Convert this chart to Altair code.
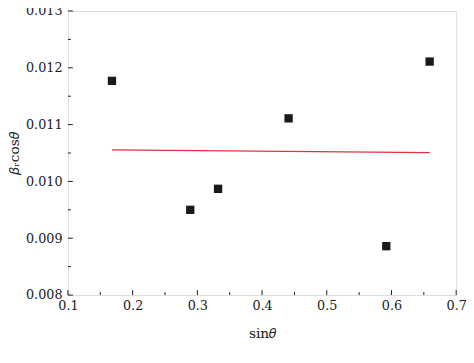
import altair as alt
import pandas as pd

# data
sin_theta = [0.168, 0.289, 0.332, 0.441, 0.592, 0.659]
beta_cos = [0.01177, 0.00950, 0.00987, 0.01111, 0.00886, 0.01211]
fit_x = [0.168, 0.659]
fit_y = [0.010557, 0.010508]
x_major = [0.1, 0.2, 0.3, 0.4, 0.5, 0.6, 0.7]
x_minor = [0.15, 0.25, 0.35, 0.45, 0.55, 0.65]
y_major = [0.008, 0.009, 0.010, 0.011, 0.012, 0.013]
y_minor = [0.0085, 0.0095, 0.0105, 0.0115, 0.0125]

W, H = 395, 289
FONT = "DejaVu Serif"

xs = alt.Scale(domain=[0.1, 0.7], nice=False, zero=False)
ys = alt.Scale(domain=[0.008, 0.013], nice=False, zero=False)

xaxis = alt.Axis(values=x_major, format=".1f", ticks=False, domain=False, grid=False,
                 labelFont=FONT, labelFontSize=13, labelColor="#1a1a1a", labelPadding=5,
                 title="sin𝜃", titleFont=FONT, titleFontSize=14, titleFontWeight="normal",
                 titleColor="#1a1a1a", titlePadding=14, labelFlush=False)
yaxis = alt.Axis(values=y_major, format=".3f", ticks=False, domain=False, grid=False,
                 labelFont=FONT, labelFontSize=13, labelColor="#1a1a1a", labelPadding=6,
                 title="𝛽ᵣcos𝜃", titleFont=FONT, titleFontSize=14, titleFontWeight="normal",
                 titleColor="#1a1a1a", titlePadding=4, labelFlush=False)

pts = pd.DataFrame({"x": sin_theta, "y": beta_cos})
fit = pd.DataFrame({"x": fit_x, "y": fit_y})

points = alt.Chart(pts).mark_square(size=72, color="#1a1a1a", opacity=1).encode(
    x=alt.X("x:Q", scale=xs, axis=xaxis),
    y=alt.Y("y:Q", scale=ys, axis=yaxis),
)
line = alt.Chart(fit).mark_line(color="#e0323c", strokeWidth=1.3).encode(
    x=alt.X("x:Q", scale=xs, axis=xaxis),
    y=alt.Y("y:Q", scale=ys, axis=yaxis),
)

def xticks(vals, length):
    return alt.Chart(pd.DataFrame({"x": vals})).mark_rule(color="#1a1a1a", strokeWidth=1).encode(
        x=alt.X("x:Q", scale=xs, axis=xaxis),
        y=alt.value(H), y2=alt.value(H - length))

def yticks(vals, length):
    return alt.Chart(pd.DataFrame({"y": vals})).mark_rule(color="#1a1a1a", strokeWidth=1).encode(
        y=alt.Y("y:Q", scale=ys, axis=yaxis),
        x=alt.value(0), x2=alt.value(length))

chart = alt.layer(
    xticks(x_major, 5), xticks(x_minor, 3), yticks(y_major, 5), yticks(y_minor, 3),
    line, points,
).properties(
    width=W, height=H,
    autosize=alt.AutoSizeParams(type="none"),
    padding={"left": 61, "top": 0, "right": 10, "bottom": 60},
).configure_view(stroke="#1a1a1a", strokeWidth=1.3).configure(background="white")

chart.save("out.html", embed_options={"renderer": "svg", "actions": False})
